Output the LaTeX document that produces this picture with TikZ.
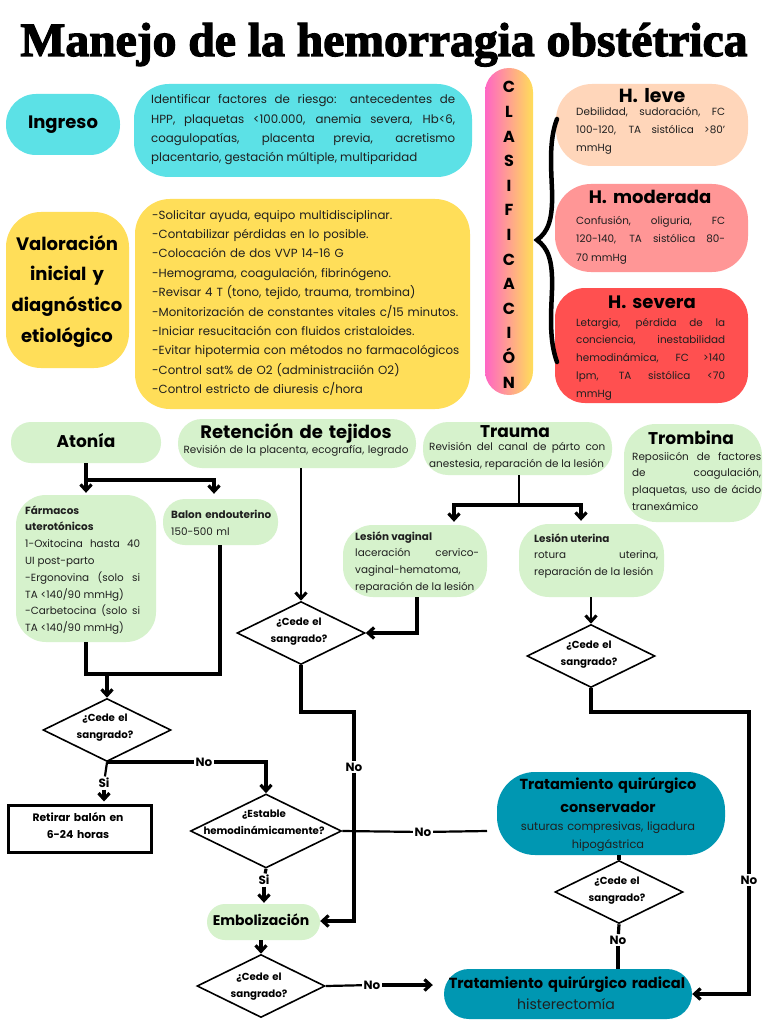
\documentclass[tikz,border=0pt]{standalone}
\usepackage{fontspec}
\usetikzlibrary{shapes.geometric,arrows.meta,fit,calc}
\setmainfont{Poppins}
\newfontfamily\titlefont[FakeBold=2.6]{Liberation Serif}
\definecolor{cyanb}{HTML}{5CE1E6}
\definecolor{yellowb}{HTML}{FFDE59}
\definecolor{peachb}{HTML}{FFD6BA}
\definecolor{rosab}{HTML}{FF9696}
\definecolor{redb}{HTML}{FF5050}
\definecolor{greenb}{HTML}{D6F2CC}
\definecolor{tealb}{HTML}{0097B2}
\definecolor{pinkb}{HTML}{FF66C4}
\definecolor{txt}{HTML}{1F1F1F}
\tolerance=10000 \hbadness=10000 \hfuzz=20pt
\newcommand{\pill}[7]{\node[fit={(#2,#3)(#4,#5)},inner sep=0pt,rounded corners=#6,fill=#7] (#1) {};}
% name, cx, cy, width, height, text baseline y, text
\newcommand{\dia}[7]{%
  \node[diamond,draw=black,line width=1.6pt,fill=white,inner sep=0pt,minimum width=#4,minimum height=#5] (#1) at (#2,#3) {};
  \node[dtext,text width=150pt] (#1-t) at ($(#2,#6)+(-2,0)$) {#7};}
\tikzset{
  body/.style={anchor=base west,inner sep=0pt,align=justify,text=txt,font=\fontsize{10.4}{#1}\selectfont},
  body/.default=17,
  bodyl/.style={anchor=base west,inner sep=0pt,align=justify,text=txt,font=\fontsize{11.8}{#1}\selectfont},
  head/.style={anchor=base,inner sep=0pt,align=center,text=black,text width=240pt,font=\fontsize{#1}{#1}\selectfont\bfseries},
  sub/.style={anchor=base,inner sep=0pt,align=center,text=txt,text width=240pt,font=\fontsize{10.4}{18}\selectfont},
  dtext/.style={anchor=base,inner sep=0pt,align=center,text=black,font=\fontsize{10.2}{17}\selectfont\bfseries},
  lab/.style={inner sep=1.5pt,fill=white,text=black,font=\fontsize{12}{12}\selectfont\bfseries},
  cb/.style={line width=3.2pt,draw=black,line join=miter},
  cbt/.style={line width=2.2pt,draw=black},
  arr/.style={cb,-{Straight Barb[length=6pt,width=11pt,line width=3.2pt]}},
  arrt/.style={cbt,-{Straight Barb[length=6pt,width=11pt,line width=3pt]}},
}
\begin{document}
\begin{tikzpicture}[x=1pt,y=-1pt]
\useasboundingbox (0,0) rectangle (768,1024);
\fill[white] (0,0) rectangle (768,1024);
% title
\node[anchor=base,inner sep=0pt,font=\titlefont\fontsize{47.6}{48}\selectfont\bfseries,text=black] (title) at (384,56) {Manejo de la hemorragia obstétrica};
% ingreso
\pill{ing}{6}{94}{120}{155}{30pt}{cyanb}
\node[head=18] (ing-t) at (63,129) {Ingreso};
\pill{ingd}{134}{84}{472}{177}{35pt}{cyanb}
\node[bodyl=19.3,text width=304pt] (ingd-t) at (151,104) {Identificar factores de riesgo: antecedentes de\linebreak HPP, plaquetas <100.000, anemia severa, Hb<6,\linebreak coagulopatías, placenta previa, acretismo\linebreak placentario, gestación múltiple, multiparidad};
% valoracion
\pill{val}{6}{212}{129}{368}{35pt}{yellowb}
\node[head=18,font=\fontsize{18}{30.7}\selectfont\bfseries] (val-t) at (67,250) {Valoración\\inicial y\\diagnóstico\\etiológico};
\pill{vald}{135}{199}{470}{409}{35pt}{yellowb}
\node[bodyl=19.4,text width=325pt,align=left] (vald-t) at (152,219) {-Solicitar ayuda, equipo multidisciplinar.\\-Contabilizar pérdidas en lo posible.\\-Colocación de dos VVP 14-16 G\\-Hemograma, coagulación, fibrinógeno.\\-Revisar 4 T (tono, tejido, trauma, trombina)\\-Monitorización de constantes vitales c/15 minutos.\\-Iniciar resucitación con fluidos cristaloides.\\-Evitar hipotermia con métodos no farmacológicos\\-Control sat\% de O2 (administraciión O2)\\-Control estricto de diuresis c/hora};
% clasificacion
\node[fit={(485,68)(533,395)},inner sep=0pt,rounded corners=24pt,left color=pinkb,right color=yellowb] (cla) {};
\node[head=16,text width=40pt,font=\fontsize{16}{24.6}\selectfont\bfseries] (cla-t) at (509,93) {C\\L\\A\\S\\I\\F\\I\\C\\A\\C\\I\\Ó\\N};
% grados
\pill{lev}{556}{84}{748}{166}{36pt}{peachb}
\node[head=19] (lev-t) at (652,103) {H. leve};
\node[body=18,text width=149pt] (lev-d) at (576,116) {Debilidad, sudoración, FC\linebreak 100-120, TA sistólica >80'\linebreak mmHg};
\pill{mod}{555}{184}{748}{272}{36pt}{rosab}
\node[head=18] (mod-t) at (650,204) {H. moderada};
\node[body=18,text width=149pt] (mod-d) at (576,225) {Confusión, oliguria, FC\linebreak 120-140, TA sistólica 80-\linebreak 70 mmHg};
\pill{sev}{555}{288}{748}{403}{30pt}{redb}
\node[head=18] (sev-t) at (652,308) {H. severa};
\node[body=17.9,text width=149pt] (sev-d) at (576,326) {Letargia, pérdida de la\linebreak conciencia, inestabilidad\linebreak hemodinámica, FC >140\linebreak lpm, TA sistólica <70\linebreak mmHg};
% llave
\coordinate (bt) at (557,119);
\coordinate (bb) at (557,362);
\draw[line width=4.5pt,line cap=round] (bt) .. controls (549,140) and (551,165) .. (552,190) .. controls (553,220) and (548,232) .. (537,240) .. controls (548,248) and (553,260) .. (552,290) .. controls (551,315) and (549,340) .. (bb);
% atonia
\pill{ato}{11}{422}{161}{463}{20pt}{greenb}
\node[head=17] (ato-t) at (86,447) {Atonía};
\pill{far}{16}{495}{156}{642}{30pt}{greenb}
\node[body=16.8,text width=115pt] (far-t) at (25,514) {\textbf{Fármacos}\newline\textbf{uterotónicos}\newline 1-Oxitocina hasta 40\linebreak UI post-parto\newline -Ergonovina (solo si\linebreak TA <140/90 mmHg)\newline -Carbetocina (solo si\linebreak TA <140/90 mmHg)};
\pill{bal}{163}{499}{278}{545}{22pt}{greenb}
\node[body=17,text width=110pt,align=left] (bal-t) at (171,518) {\textbf{Balon endouterino}\\150-500 ml};
% retencion
\pill{ret}{178}{419}{416}{468}{24pt}{greenb}
\node[head=18] (ret-t) at (296,438) {Retención de tejidos};
\node[sub] (ret-d) at (296,453) {Revisión de la placenta, ecografía, legrado};
% trauma
\pill{tra}{423}{422}{612}{475}{25pt}{greenb}
\node[head=17] (tra-t) at (515,437) {Trauma};
\node[body=17,text width=176pt] (tra-d) at (429,450) {Revisión del canal de párto con\linebreak anestesia, reparación de la lesión};
% trombina
\pill{tro}{624}{424}{762}{522}{32pt}{greenb}
\node[head=17] (tro-t) at (691,444) {Trombina};
\node[body=16.9,text width=129pt] (tro-d) at (632,460) {Reposiicón de factores\linebreak de coagulación,\linebreak plaquetas, uso de ácido\linebreak tranexámico};
% lesiones
\pill{lva}{343}{525}{487}{597}{30pt}{greenb}
\node[body=16.7,text width=124pt] (lva-t) at (355,540) {\textbf{Lesión vaginal}\newline laceración cervico-\linebreak vaginal-hematoma,\newline reparación de la lesión};
\pill{lut}{519}{524}{664}{597}{30pt}{greenb}
\node[body=16.6,text width=124pt] (lut-t) at (534,542) {\textbf{Lesión uterina}\newline rotura uterina,\linebreak reparación de la lesión};
% diamantes
\dia{d1}{301}{633}{128pt}{63pt}{625}{¿Cede el\\sangrado?}
\dia{d2}{107}{730}{128pt}{63pt}{721}{¿Cede el\\sangrado?}
\dia{d3}{266}{831}{151pt}{74pt}{817}{¿Estable\\hemodinámicamente?}
\dia{d4}{261}{986}{128pt}{63pt}{980}{¿Cede el\\sangrado?}
\dia{d5}{619}{892}{128pt}{63pt}{884}{¿Cede el\\sangrado?}
\dia{d6}{591}{656}{128pt}{63pt}{648}{¿Cede el\\sangrado?}
% retirar
\node[fit={(8,805)(151,852)},inner sep=0pt,draw=black,line width=3pt,fill=white] (rb) {};
\node[dtext,text width=140pt,font=\fontsize{10.8}{17}\selectfont\bfseries] (rb-t) at (78,821) {Retirar balón en\\6-24 horas};
% embolizacion
\pill{emb}{207}{904}{320}{940}{18pt}{greenb}
\node[head=14] (emb-t) at (261,925) {Embolización};
% radical y conservador
\pill{rad}{444}{969}{692}{1019}{25pt}{tealb}
\node[head=14.6] (rad-t) at (567,988) {Tratamiento quirúrgico radical};
\node[anchor=base,inner sep=0pt,text=txt,font=\fontsize{14.1}{15}\selectfont] (rad-d) at (566,1009) {histerectomía};
\pill{con}{497}{772}{725}{855}{38pt}{tealb}
\node[head=14.5,font=\fontsize{14.5}{23}\selectfont\bfseries] (con-t) at (608,789) {Tratamiento quirúrgico\\conservador};
\node[sub,font=\fontsize{11.4}{18}\selectfont] (con-d) at (608,830) {suturas compresivas, ligadura\\hipogástrica};
% etiquetas
\node[lab] (no1) at (354,767) {No};
\node[lab] (no2) at (204,762) {No};
\node[lab] (no3) at (423,832) {No};
\node[lab] (no4) at (372,985) {No};
\node[lab] (no5) at (618,940) {No};
\node[lab] (no6) at (749,880) {No};
\node[lab] (si1) at (104,783) {Si};
\node[lab] (si2) at (264,880) {Si};
% puntos de paso
\coordinate (a1) at (86,480);
\coordinate (a2) at (214,480);
\coordinate (a3) at (86,674);
\coordinate (a4) at (220,674);
\coordinate (a5) at (107,674);
\coordinate (t1) at (519,505);
\coordinate (t2) at (454,505);
\coordinate (t3) at (581,505);
\coordinate (v1) at (417,633);
\coordinate (r1) at (301,712);
\coordinate (r2) at (354,712);
\coordinate (r3) at (354,921);
\coordinate (u1) at (591,712);
\coordinate (u2) at (749,712);
\coordinate (u3) at (749,994);
\coordinate (n1) at (266,762);
\coordinate (c1) at (487,831);
% conectores
\draw[arr] (ato.south -| a1) -- ($(far.north -| a1)+(0,-2)$);
\draw[arr] (a1) -- (a2) -- ($(bal.north -| a2)+(0,-5)$);
\draw[cb] (far.south -| a3) -- (a3) -- (a4) -- (bal.south -| a4);
\draw[arr] (a5) -- (d2.north);
\draw[arrt] (ret.south -| d1.north) -- (d1.north);
\draw[cbt] (tra.south -| t1) -- (t1);
\draw[arr] (t1) -- (t2) -- ($(lva.north -| t2)+(0,-3)$);
\draw[arr] (t1) -- (t3) -- ($(lut.north -| t3)+(0,-3)$);
\draw[arr] (lva.south -| v1) -- (v1) -- (d1.east);
\draw[arrt] (lut.south -| d6.north) -- (d6.north);
\draw[cb] (d1.south) -- (r1) -- (r2) -- (no1);
\draw[arr] (no1) -- (r3) -- (emb.east |- r3);
\draw[cb] (d6.south) -- (u1) -- (u2) -- (no6);
\draw[arr] (no6) -- (u3) -- (rad.east |- u3);
\draw[cbt] (d2.south) -- (si1);
\draw[arr] (si1) -- ($(rb.north -| si1)+(0,-2)$);
\draw[cb] (d2.south |- n1) -- (no2);
\draw[arr] (no2) -- (n1) -- (d3.north);
\draw[cb] (d3.south) -- (si2);
\draw[arr] (si2) -- ($(emb.north -| si2)+(0,-1)$);
\draw[arr] (emb.south -| d4.north) -- (d4.north);
\draw[cbt] (d3.east) -- (no3);
\draw[cbt] (no3) -- (c1);
\draw[cbt] (d4.east) -- (no4);
\draw[arr] (no4) -- ($(rad.west |- no4)+(-11,0)$);
\draw[cb] (con.south -| d5.north) -- (d5.north);
\draw[cb] (d5.south) -- (no5);
\draw[cb] (no5) -- (rad.north -| no5);
\end{tikzpicture}
\end{document}
